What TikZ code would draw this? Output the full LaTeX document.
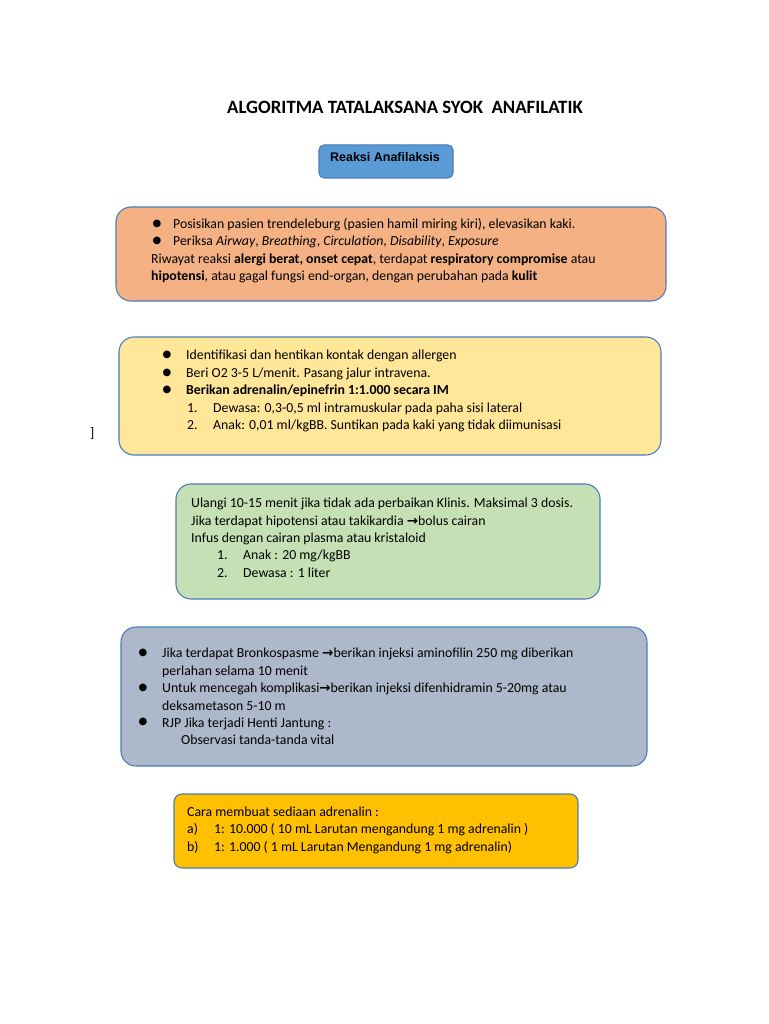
\documentclass[tikz,border=0pt]{standalone}
\usepackage{fontspec}
\setmainfont{Carlito}
\newfontfamily\arialf{Liberation Sans}
\newfontfamily\dejavu{DejaVu Sans}
\definecolor{bordblue}{HTML}{4A7EBB}
\definecolor{bluefill}{HTML}{5B9BD5}
\definecolor{orangefill}{HTML}{F4B183}
\definecolor{yellowfill}{HTML}{FFE699}
\definecolor{greenfill}{HTML}{C5E0B4}
\definecolor{greyfill}{HTML}{ADB9CA}
\definecolor{goldfill}{HTML}{FFC000}
\newcommand\arr{{\dejavu\fontsize{13.5}{13.5}\selectfont\bfseries →}}
\begin{document}
\begin{tikzpicture}[x=1pt,y=-1pt,
  box/.style={draw=bordblue, line width=1.1pt, rounded corners=15pt},
  txt/.style={anchor=base west, inner sep=0pt, font=\fontsize{13.8}{16.8}\selectfont},
  bul/.style={anchor=center, inner sep=0pt, font=\dejavu\fontsize{10}{10}\selectfont}]
\path[use as bounding box, fill=white] (0,0) rectangle (768,1024);

\node[anchor=center, inner sep=0pt, font=\fontsize{18.8}{20}\selectfont\bfseries] (title) at (405,107) {ALGORITMA TATALAKSANA SYOK\ \ ANAFILATIK};

% Reaksi box
\draw[box, rounded corners=5pt, fill=bluefill] (319,145) rectangle (453,178);
\node[anchor=center, inner sep=0pt, font=\arialf\fontsize{12.5}{14}\selectfont\bfseries] (reaksi) at (385,157) {Reaksi Anafilaksis};

% Orange box
\draw[box, fill=orangefill] (116,207) rectangle (666,301);
\node[bul] (ob1) at (157,224) {●};
\node[txt] (o1) at (173,228.5) {Posisikan pasien trendeleburg (pasien hamil miring kiri), elevasikan kaki.};
\node[bul] (ob2) at (157,241) {●};
\node[txt] (o2) at (173,245.5) {Periksa \textit{Airway}, \textit{Breathing}, \textit{Circulation}, \textit{Disability}, \textit{Exposure}};
\node[txt] (o3) at (151,263) {Riwayat reaksi \textbf{alergi berat, onset cepat}, terdapat \textbf{respiratory compromise} atau};
\node[txt] (o4) at (151,280.5) {\textbf{hipotensi}, atau gagal fungsi end-organ, dengan perubahan pada \textbf{kulit}};

% bracket
\node[txt] (brk) at (90,437) {]};

% Yellow box
\draw[box, fill=yellowfill] (119,337) rectangle (661,455);
\node[bul] (yb1) at (167,355) {●};
\node[txt] (y1) at (186,359.5) {Identifikasi dan hentikan kontak dengan allergen};
\node[bul] (yb2) at (167,373) {●};
\node[txt] (y2) at (186,377) {Beri O2 3-5 L/menit. Pasang jalur intravena.};
\node[bul] (yb3) at (167,390) {●};
\node[txt] (y3) at (186,394.5) {\textbf{Berikan adrenalin/epinefrin 1:1.000 secara IM}};
\node[txt] (y4n) at (187,412) {1.};
\node[txt] (y4) at (213,412) {Dewasa: 0,3-0,5 ml intramuskular pada paha sisi lateral};
\node[txt] (y5n) at (187,429.5) {2.};
\node[txt] (y5) at (213,429.5) {Anak: 0,01 ml/kgBB. Suntikan pada kaki yang tidak diimunisasi};

% Green box
\draw[box, fill=greenfill] (176,484) rectangle (600,599);
\node[txt] (g1) at (191,507.5) {Ulangi 10-15 menit jika tidak ada perbaikan Klinis. Maksimal 3 dosis.};
\node[txt] (g2) at (191,525) {Jika terdapat hipotensi atau takikardia \arr bolus cairan};
\node[txt] (g3) at (191,542) {Infus dengan cairan plasma atau kristaloid};
\node[txt] (g4n) at (217,559.5) {1.};
\node[txt] (g4) at (243,559.5) {Anak : 20 mg/kgBB};
\node[txt] (g5n) at (217,577) {2.};
\node[txt] (g5) at (243,577) {Dewasa : 1 liter};

% Grey box
\draw[box, fill=greyfill] (121,627) rectangle (647,766);
\node[bul] (sb1) at (143,653) {●};
\node[txt] (s1) at (162,657.5) {Jika terdapat Bronkospasme \arr berikan injeksi aminofilin 250 mg diberikan};
\node[txt] (s2) at (162,675) {perlahan selama 10 menit};
\node[bul] (sb2) at (143,688) {●};
\node[txt] (s3) at (162,692.5) {Untuk mencegah komplikasi\arr berikan injeksi difenhidramin 5-20mg atau};
\node[txt] (s4) at (162,710) {deksametason 5-10 m};
\node[bul] (sb3) at (143,722) {●};
\node[txt] (s5) at (162,727) {RJP Jika terjadi Henti Jantung :};
\node[txt] (s6) at (181,744.5) {Observasi tanda-tanda vital};

% Gold box
\draw[box, fill=goldfill, rounded corners=8pt] (174,794) rectangle (578,868);
\node[txt] (c1) at (187,816) {Cara membuat sediaan adrenalin :};
\node[txt] (c2n) at (187,833.5) {a)};
\node[txt] (c2) at (214,833.5) {1: 10.000 ( 10 mL Larutan mengandung 1 mg adrenalin )};
\node[txt] (c3n) at (187,851) {b)};
\node[txt] (c3) at (214,851) {1: 1.000 ( 1 mL Larutan Mengandung 1 mg adrenalin)};
\end{tikzpicture}
\end{document}
